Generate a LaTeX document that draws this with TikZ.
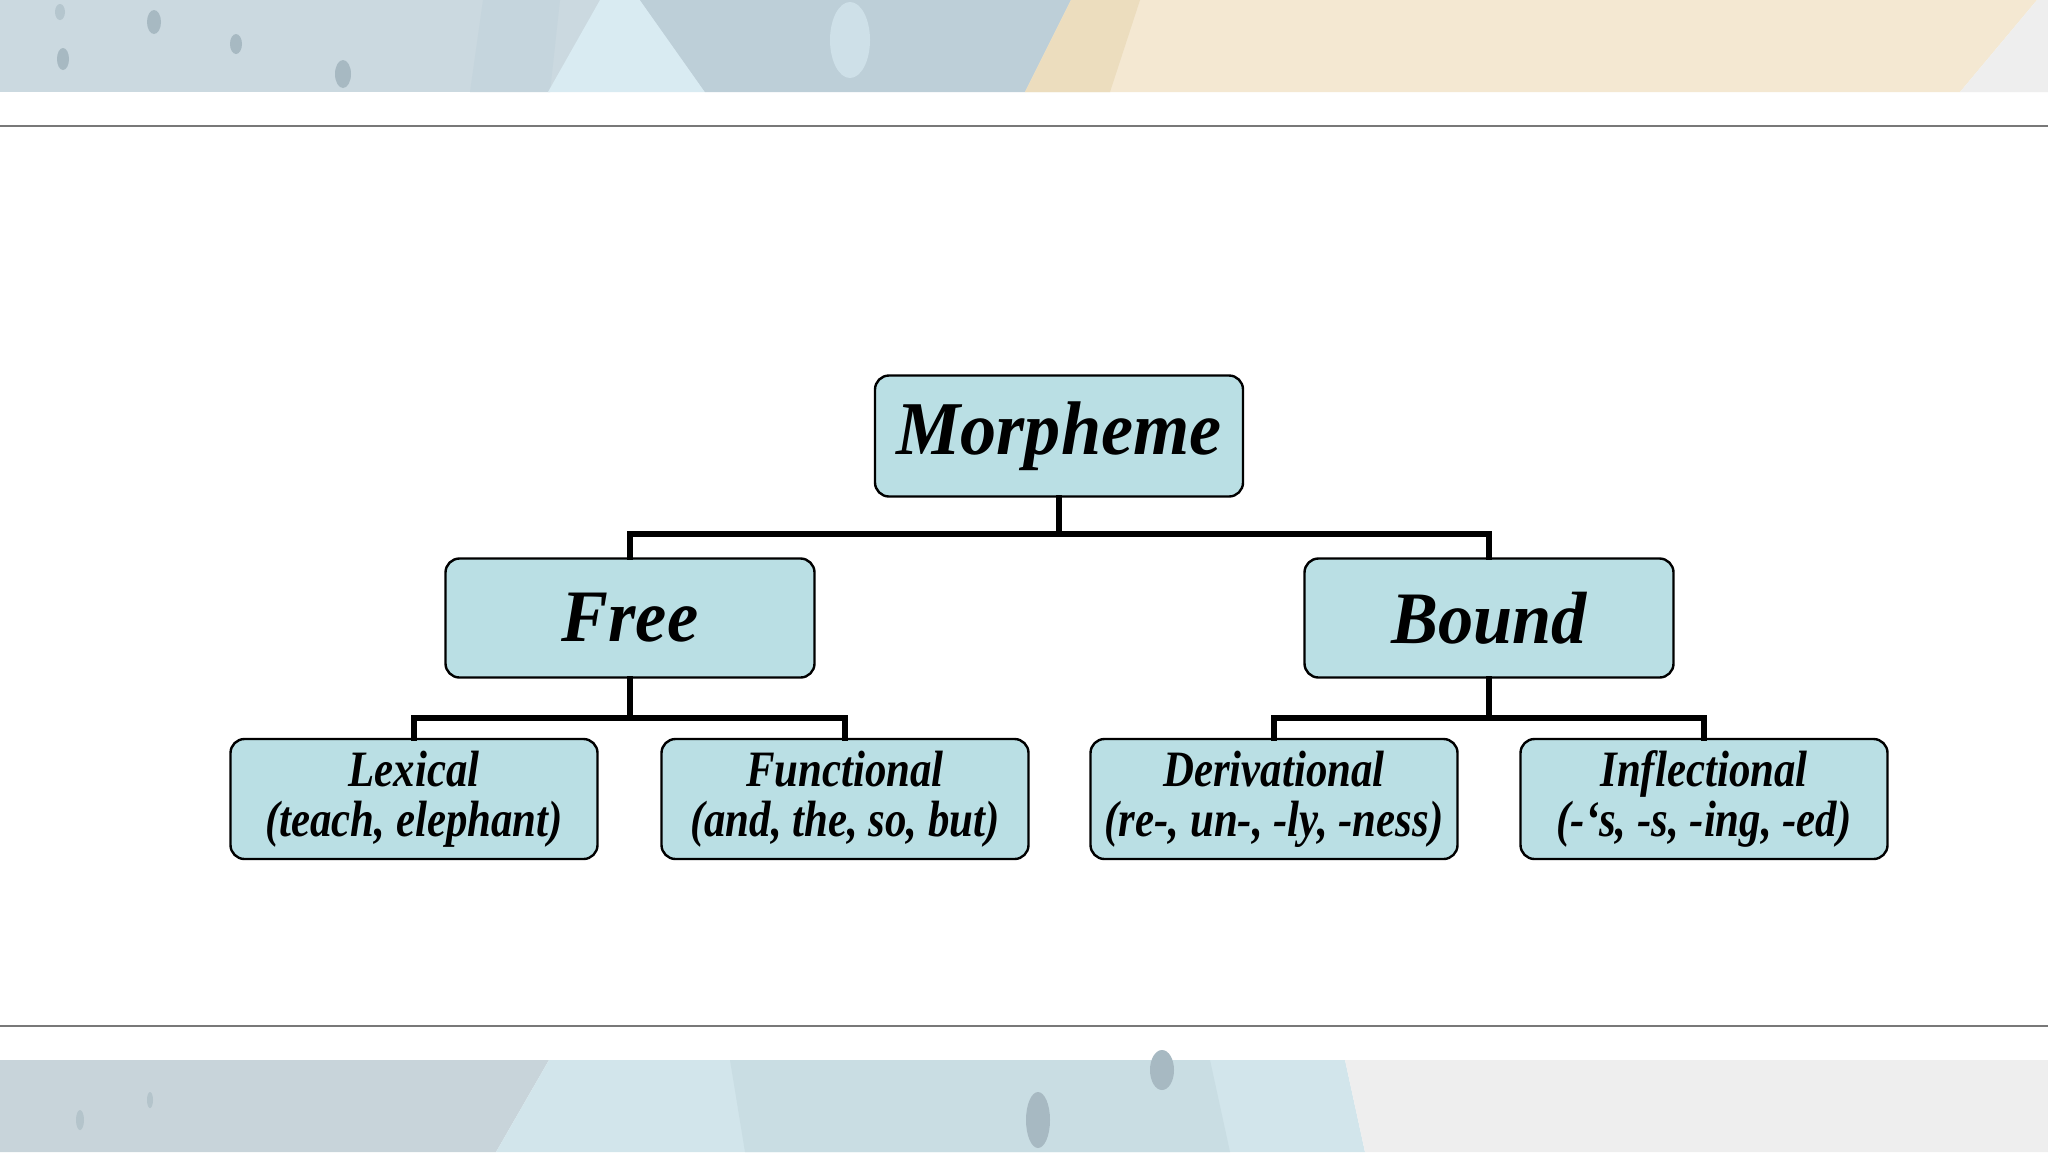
\documentclass[tikz,border=0pt]{standalone}
\usepackage{fontspec}
\setmainfont{Liberation Serif}
\newfontfamily\boxfont[FakeStretch=0.84]{Liberation Serif}
\newfontfamily\headfont[FakeStretch=0.95]{Liberation Serif}
\definecolor{boxfill}{RGB}{186,223,228}
\definecolor{bgA}{RGB}{203,217,224}
\definecolor{bgB}{RGB}{217,235,242}
\definecolor{bgC}{RGB}{189,207,216}
\definecolor{bgD}{RGB}{244,232,210}
\definecolor{bgE}{RGB}{236,221,190}
\definecolor{bgF}{RGB}{238,238,238}
\definecolor{bgG}{RGB}{200,212,218}
\definecolor{bgH}{RGB}{210,229,235}
\definecolor{bgI}{RGB}{201,221,227}
\definecolor{spot}{RGB}{167,185,194}
\definecolor{sepgrey}{RGB}{120,120,120}
\tikzset{
  tbox/.style={draw=black, line width=1.2pt, fill=boxfill, rounded corners=7pt, inner sep=0pt, align=center},
  topbox/.style={tbox, minimum width=184pt, minimum height=60.5pt,
     font=\headfont\bfseries\itshape\fontsize{38}{40}\selectfont},
  midbox/.style={tbox, minimum width=184.5pt, minimum height=59.5pt,
     font=\headfont\bfseries\itshape\fontsize{37}{40}\selectfont},
  leafbox/.style={tbox, minimum width=183.5pt, minimum height=60pt,
     font=\boxfont\bfseries\itshape\fontsize{25.5}{25}\selectfont},
  link/.style={line width=2.8pt, line cap=rect, line join=miter},
  sepline/.style={draw=sepgrey, line width=1.2pt}
}
\begin{document}
\begin{tikzpicture}[x=0.5pt,y=-0.5pt]
\useasboundingbox (0,0) rectangle (2048,1152);
\fill[white] (0,0) rectangle (2048,1152);
% top band
\fill[bgA] (0,0) rectangle (1071,92);
\fill[bgA!60!bgC] (483,0) -- (560,0) -- (550,92) -- (470,92) -- cycle;
\fill[bgB] (600,0) -- (640,0) -- (705,92) -- (548,92) -- cycle;
\fill[bgC] (640,0) -- (1071,0) -- (1025,92) -- (705,92) -- cycle;
\fill[bgB!60!bgC] (850,40) ellipse (20 and 38);
\fill[bgD] (1071,0) -- (2037,0) -- (1960,92) -- (1025,92) -- cycle;
\fill[bgE] (1071,0) -- (1140,0) -- (1110,92) -- (1025,92) -- cycle;
\fill[bgF] (2037,0) -- (2048,0) -- (2048,92) -- (1960,92) -- cycle;
\fill[spot] (154,22) ellipse (7 and 12);
\fill[spot] (236,44) ellipse (6 and 10);
\fill[spot] (343,74) ellipse (8 and 14);
\fill[spot] (63,59) ellipse (6 and 11);
\fill[spot!60!bgA] (60,12) ellipse (5 and 8);
% bottom band
\fill[bgG] (0,1060) -- (549,1060) -- (496,1152) -- (0,1152) -- cycle;
\fill[bgH] (549,1060) -- (1345,1060) -- (1365,1152) -- (496,1152) -- cycle;
\fill[bgI] (730,1060) -- (1210,1060) -- (1230,1152) -- (745,1152) -- cycle;
\fill[bgF] (1345,1060) -- (2048,1060) -- (2048,1152) -- (1365,1152) -- cycle;
\fill[spot] (1162,1070) ellipse (12 and 20);
\fill[spot] (1038,1120) ellipse (12 and 28);
\fill[spot!60!bgG] (80,1120) ellipse (4 and 10);
\fill[spot!60!bgG] (150,1100) ellipse (3 and 8);
% separator lines
\draw[sepline] (0,126) -- (2048,126);
\draw[sepline] (0,1026) -- (2048,1026);
% nodes
\node[topbox] (m) at (1059,436) {Morpheme};
\node[midbox] (free) at (630,618) {Free};
\node[midbox] (bound) at (1489,618) {Bound};
\node[leafbox] (lex) at (414,799) {Lexical\\(teach, elephant)};
\node[leafbox] (fun) at (845,799) {Functional\\(and, the, so, but)};
\node[leafbox] (der) at (1274,799) {Derivational\\(re-, un-, -ly, -ness)};
\node[leafbox] (inf) at (1704,799) {Inflectional\\(-‘s, -s, -ing, -ed)};
\coordinate (jm) at (1059,534);
\coordinate (jf) at (630,718);
\coordinate (jb) at (1489,718);
% connectors
\draw[link] (m.south) -- (jm);
\draw[link] (free.north) -- (free.north |- jm) -- (bound.north |- jm) -- (bound.north);
\draw[link] (free.south) -- (jf);
\draw[link] (lex.north) -- (lex.north |- jf) -- (fun.north |- jf) -- (fun.north);
\draw[link] (bound.south) -- (jb);
\draw[link] (der.north) -- (der.north |- jb) -- (inf.north |- jb) -- (inf.north);
\end{tikzpicture}
\end{document}
